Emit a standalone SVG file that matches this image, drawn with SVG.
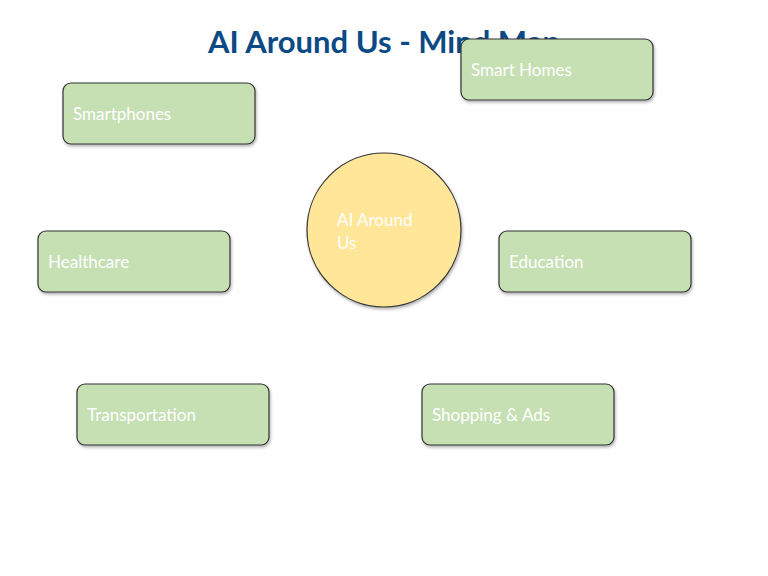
<svg xmlns="http://www.w3.org/2000/svg" width="768" height="576" viewBox="0 0 768 576">
<defs>
<filter id="sh" x="-10%" y="-10%" width="130%" height="140%"><feDropShadow dx="1" dy="2" stdDeviation="1.5" flood-color="#000" flood-opacity="0.3"/></filter>
</defs>
<style>
.box{fill:#c6e0b4;stroke:#333;stroke-width:1.2;filter:url(#sh)}
.lbl{font-family:Lato,"Liberation Sans",sans-serif;font-size:17px;fill:#fff}
.title{font-family:Lato,"Liberation Sans",sans-serif;font-size:31px;font-weight:bold;fill:#0b4a85}
</style>
<rect width="768" height="576" fill="#fff"/>
<text class="title" x="384" y="53" text-anchor="middle">AI Around Us - Mind Map</text>
<g id="connectors"></g>
<g id="center">
<circle cx="384" cy="230" r="77" fill="#ffe699" stroke="#333" stroke-width="1.2" filter="url(#sh)"/>
<text class="lbl" x="337" y="226">AI Around</text>
<text class="lbl" x="337" y="249">Us</text>
</g>
<g id="smart-homes"><rect class="box" x="461" y="39" width="192" height="61" rx="8"/><text class="lbl" x="471" y="76">Smart Homes</text></g>
<g id="smartphones"><rect class="box" x="63" y="83" width="192" height="61" rx="8"/><text class="lbl" x="73" y="120">Smartphones</text></g>
<g id="healthcare"><rect class="box" x="38" y="231" width="192" height="61" rx="8"/><text class="lbl" x="48" y="268">Healthcare</text></g>
<g id="education"><rect class="box" x="499" y="231" width="192" height="61" rx="8"/><text class="lbl" x="509" y="268">Education</text></g>
<g id="transportation"><rect class="box" x="77" y="384" width="192" height="61" rx="8"/><text class="lbl" x="87" y="421">Transportation</text></g>
<g id="shopping"><rect class="box" x="422" y="384" width="192" height="61" rx="8"/><text class="lbl" x="432" y="421">Shopping &amp; Ads</text></g>
</svg>
